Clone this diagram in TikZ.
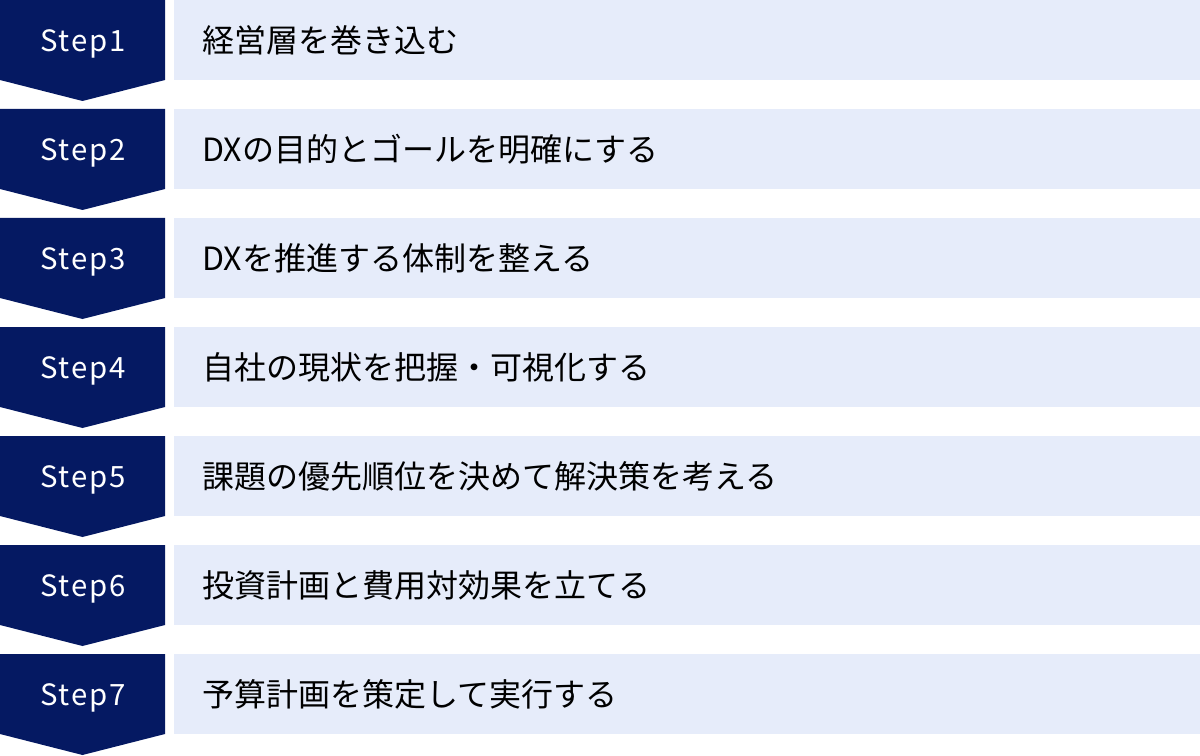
\documentclass[tikz,border=0pt]{standalone}
\usepackage{fontspec}
\setmainfont{Noto Sans CJK JP}
\newfontfamily\stepfont[LetterSpace=6]{Noto Sans CJK JP}
\definecolor{stepnavy}{RGB}{5,25,98}
\definecolor{steplight}{RGB}{230,236,250}
\begin{document}
\begin{tikzpicture}[x=0.75pt,y=-0.75pt,
  chevron/.style={fill=stepnavy},
  steplabel/.style={text=white,font=\stepfont\fontsize{22}{26}\selectfont},
  bar/.style={fill=steplight,anchor=north west,minimum width=769.5pt,minimum height=60pt,
    text width=727.5pt,inner xsep=21pt,align=left,font=\fontsize{24}{28}\selectfont}]
\useasboundingbox (0,0) rectangle (1200,756);

\path[chevron] (0,0) -- (165,0) -- (165,80) -- (82.5,101) -- (0,80) -- cycle;
\path[chevron] (0,109) -- (165,109) -- (165,189) -- (82.5,210) -- (0,189) -- cycle;
\path[chevron] (0,218) -- (165,218) -- (165,298) -- (82.5,319) -- (0,298) -- cycle;
\path[chevron] (0,327) -- (165,327) -- (165,407) -- (82.5,428) -- (0,407) -- cycle;
\path[chevron] (0,436) -- (165,436) -- (165,516) -- (82.5,537) -- (0,516) -- cycle;
\path[chevron] (0,545) -- (165,545) -- (165,625) -- (82.5,646) -- (0,625) -- cycle;
\path[chevron] (0,654) -- (165,654) -- (165,734) -- (82.5,755) -- (0,734) -- cycle;

\node[steplabel] (s1) at (83,44) {Step1};
\node[steplabel] (s2) at (83,153) {Step2};
\node[steplabel] (s3) at (83,262) {Step3};
\node[steplabel] (s4) at (83,371) {Step4};
\node[steplabel] (s5) at (83,480) {Step5};
\node[steplabel] (s6) at (83,589) {Step6};
\node[steplabel] (s7) at (83,698) {Step7};

\node[bar] (b1) at (174,0) {経営層を巻き込む};
\node[bar] (b2) at (174,109) {DXの目的とゴールを明確にする};
\node[bar] (b3) at (174,218) {DXを推進する体制を整える};
\node[bar] (b4) at (174,327) {自社の現状を把握・可視化する};
\node[bar] (b5) at (174,436) {課題の優先順位を決めて解決策を考える};
\node[bar] (b6) at (174,545) {投資計画と費用対効果を立てる};
\node[bar] (b7) at (174,654) {予算計画を策定して実行する};
\end{tikzpicture}
\end{document}
